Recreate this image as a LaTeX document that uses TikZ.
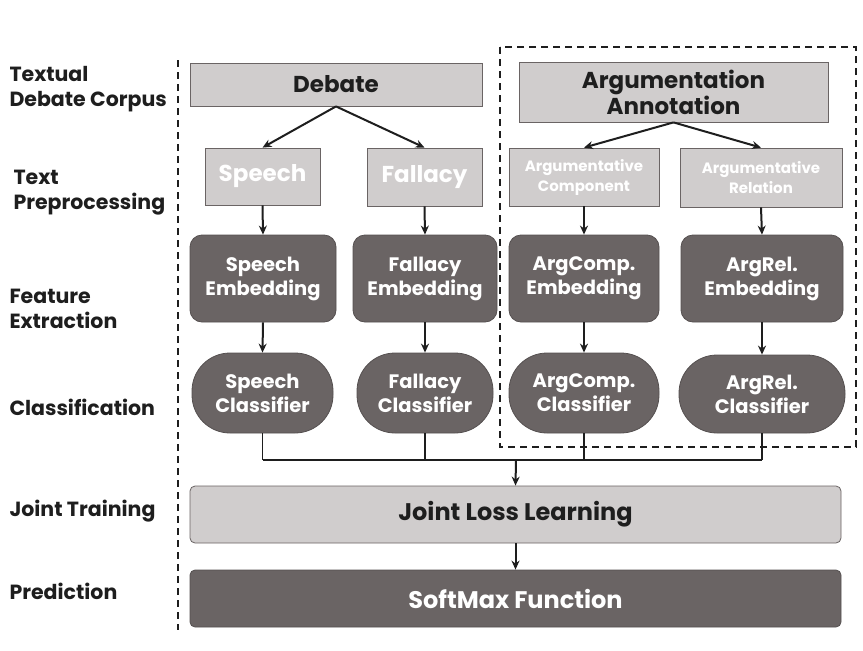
\documentclass[tikz,border=0pt]{standalone}
\usepackage{fontspec}
\setmainfont{Poppins}
\usetikzlibrary{arrows.meta}
\definecolor{lg}{HTML}{D0CDCD}
\definecolor{dg}{HTML}{6A6464}
\definecolor{tx}{HTML}{1E1E1E}
\begin{document}
\begin{tikzpicture}[x=1pt,y=-1pt,
  lab/.style={anchor=west,align=left,font=\bfseries\fontsize{20.5}{25}\selectfont,text=tx},
  lbox/.style={draw=dg,line width=0.8pt,fill=lg,inner sep=0pt,align=center,font=\bfseries\fontsize{23}{26}\selectfont,text=tx},
  wbox/.style={draw=dg,line width=0.8pt,fill=lg,inner sep=0pt,align=center,text=white,font=\bfseries\fontsize{23}{26}\selectfont},
  dbox/.style={draw=dg!80!black,line width=0.8pt,fill=dg,rounded corners=12pt,inner sep=0pt,align=center,text=white,font=\bfseries\fontsize{19.5}{24}\selectfont},
  pill/.style={draw=dg!80!black,line width=0.8pt,fill=dg,rounded corners=38pt,inner sep=0pt,align=center,text=white,font=\bfseries\fontsize{19.5}{24}\selectfont},
  arr/.style={-{Stealth[length=9pt,width=8pt]},line width=2pt,draw=tx},
  ln/.style={line width=1.2pt,draw=tx}]
\useasboundingbox (0,0) rectangle (863,651);
\fill[white] (0,0) rectangle (863,651);
\node[lab] at (6,89) {Textual\\Debate Corpus};
\node[lab] at (10,193) {Text\\Preprocessing};
\node[lab] at (6,309) {Feature\\Extraction};
\node[lab] at (6,407) {Classification};
\node[lab] at (6,511) {Joint Training};
\node[lab] at (6,591) {Prediction};
\draw[dash pattern=on 7pt off 5pt,line width=1.6pt,tx] (178,60) -- (178,630);
\draw[dash pattern=on 7pt off 5pt,line width=1.6pt,tx] (500,47) rectangle (856,447);
% top boxes
\node[lbox,minimum width=292pt,minimum height=43pt] (deb) at (336,84.5) {Debate};
\node[lbox,minimum width=309pt,minimum height=60pt] (arg) at (673.5,92) {Argumentation\\Annotation};
\node[wbox,minimum width=115pt,minimum height=57pt] (sp) at (262.5,176.5) {Speech};
\node[wbox,minimum width=115pt,minimum height=58pt] (fa) at (424.5,177) {Fallacy};
\node[wbox,minimum width=150pt,minimum height=58pt,font=\bfseries\fontsize{15}{20}\selectfont] (ac) at (584,177) {Argumentative\\Component};
\node[wbox,minimum width=162pt,minimum height=59pt,font=\bfseries\fontsize{15}{20}\selectfont] (ar) at (761,177.5) {Argumentative\\Relation};
% embeddings
\node[dbox,minimum width=146pt,minimum height=87pt] (se) at (263,278.5) {Speech\\Embedding};
\node[dbox,minimum width=144pt,minimum height=87pt] (fe) at (425,278.5) {Fallacy\\Embedding};
\node[dbox,minimum width=150pt,minimum height=87pt] (ae) at (584,278.5) {ArgComp.\\Embedding};
\node[dbox,minimum width=162pt,minimum height=87pt] (re) at (762,278.5) {ArgRel.\\Embedding};
% classifiers
\node[pill,minimum width=141pt,minimum height=80pt] (sc) at (262.5,393) {Speech\\Classifier};
\node[pill,minimum width=136pt,minimum height=80pt] (fc) at (425,393) {Fallacy\\Classifier};
\node[pill,minimum width=150pt,minimum height=80pt] (acc) at (584,393) {ArgComp.\\Classifier};
\node[pill,minimum width=166pt,minimum height=78pt] (rc) at (762,394) {ArgRel.\\Classifier};
% joint, softmax
\node[lbox,rounded corners=5pt,minimum width=651pt,minimum height=57pt,font=\bfseries\fontsize{24}{26}\selectfont] (jl) at (515.5,514.5) {Joint Loss Learning};
\node[dbox,rounded corners=5pt,minimum width=651pt,minimum height=57pt,font=\bfseries\fontsize{24}{26}\selectfont] (sm) at (515.5,598.5) {SoftMax Function};
\coordinate (j) at (516,460);
% arrows
\draw[arr] (deb.south) -- (sp.north);
\draw[arr] (deb.south) -- (fa.north);
\draw[arr] (arg.south) -- (ac.north);
\draw[arr] (arg.south) -- (ar.north);
\foreach \a/\b in {sp/se,fa/fe,ac/ae,ar/re,se/sc,fe/fc,ae/acc,re/rc}{
  \draw[arr] (\a.south) -- (\b.north);}
\foreach \c in {sc,fc,acc,rc}{\draw[ln] (\c.south) -- (\c.south |- j);}
\draw[ln] (sc.south |- j) -- (rc.south |- j);
\draw[arr] (j) -- (jl.north);
\draw[arr] (jl.south) -- (sm.north);
\end{tikzpicture}
\end{document}
